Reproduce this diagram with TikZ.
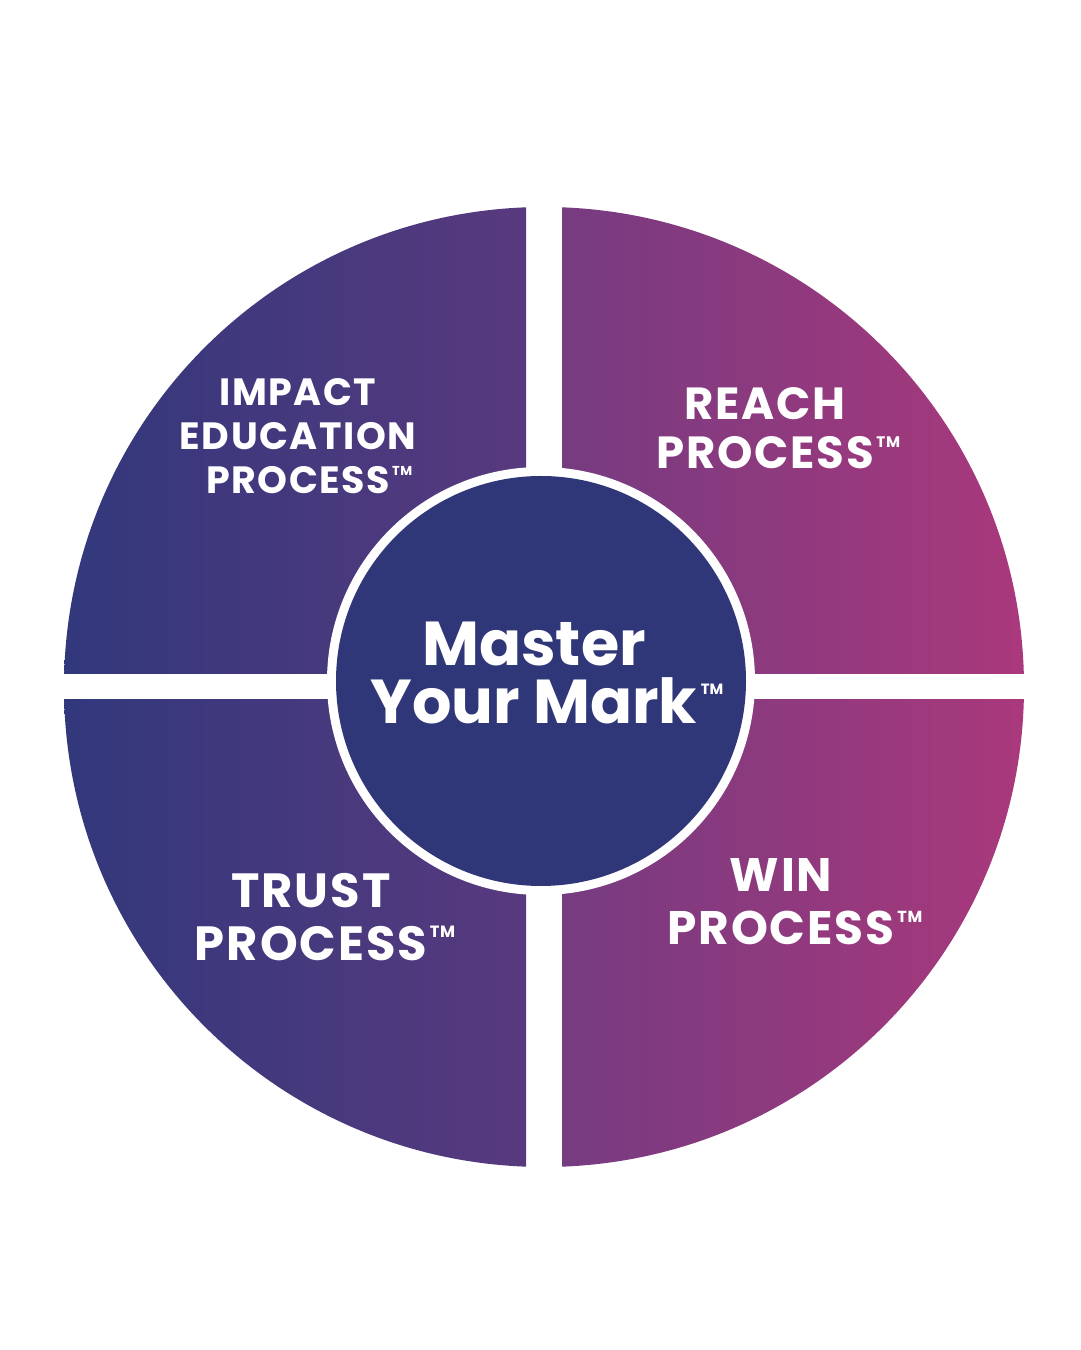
\documentclass[tikz,border=0pt]{standalone}
\usepackage{fontspec}
\usepackage{graphicx}
\setmainfont{Poppins}
\usetikzlibrary{calc}

% Small raised trade mark after a word, left out of the centring
\newcommand{\tmsign}[1][0.34]{\rlap{\kern0.06em\raisebox{0.47em}{\scalebox{#1}{TM}}}}

\begin{document}
\begin{tikzpicture}[x=1pt, y=1pt,
    quadText/.style={text=white, align=center, inner sep=0pt}]
    % Define colours
    \definecolor{leftStart}{RGB}{50,56,124}
    \definecolor{leftEnd}{RGB}{88,57,126}
    \definecolor{rightStart}{RGB}{118,59,128}
    \definecolor{rightEnd}{RGB}{170,56,124}
    \definecolor{hubColour}{RGB}{48,55,120}

    % Define sizes
    \def\outerRadius{480}
    \def\hubRadius{205}

    \useasboundingbox (0,0) rectangle (1080,1350);
    \coordinate (O) at (544,663);
    \coordinate (H) at (541,669);

    % Draw the four quadrants
    \begin{scope}
        \clip (O) circle (\outerRadius);
        \shade[left color=leftStart, right color=leftEnd] (63,676) rectangle (526,1150);
        \shade[left color=leftStart, right color=leftEnd] (63,176) rectangle (526,650);
        \shade[left color=rightStart, right color=rightEnd] (562,676) rectangle (1025,1150);
        \shade[left color=rightStart, right color=rightEnd] (562,176) rectangle (1025,650);
    \end{scope}

    % Draw hub with white ring
    \fill[white] (H) circle (214);
    \fill[hubColour] (H) circle (\hubRadius);

    % Label the quadrants
    \node[quadText, font=\bfseries\fontsize{38}{44}\selectfont\addfontfeatures{LetterSpace=4}] (impact) at (298,914) {IMPACT\\EDUCATION\\PROCESS\tmsign};
    \node[quadText, font=\bfseries\fontsize{45}{49}\selectfont\addfontfeatures{LetterSpace=4}] (reach) at (765,922) {REACH\\PROCESS\tmsign};
    \node[quadText, font=\bfseries\fontsize{48}{53}\selectfont\addfontfeatures{LetterSpace=4}] (trust) at (311,433) {TRUST\\PROCESS\tmsign};
    \node[quadText, font=\bfseries\fontsize{47}{53}\selectfont\addfontfeatures{LetterSpace=4}] (win) at (781,448) {WIN\\PROCESS\tmsign};

    % Label the hub
    \node[quadText, font=\bfseries\fontsize{62}{58}\selectfont] (master) at (534,677) {Master\\Your Mark\tmsign[0.24]};

\end{tikzpicture}
\end{document}
